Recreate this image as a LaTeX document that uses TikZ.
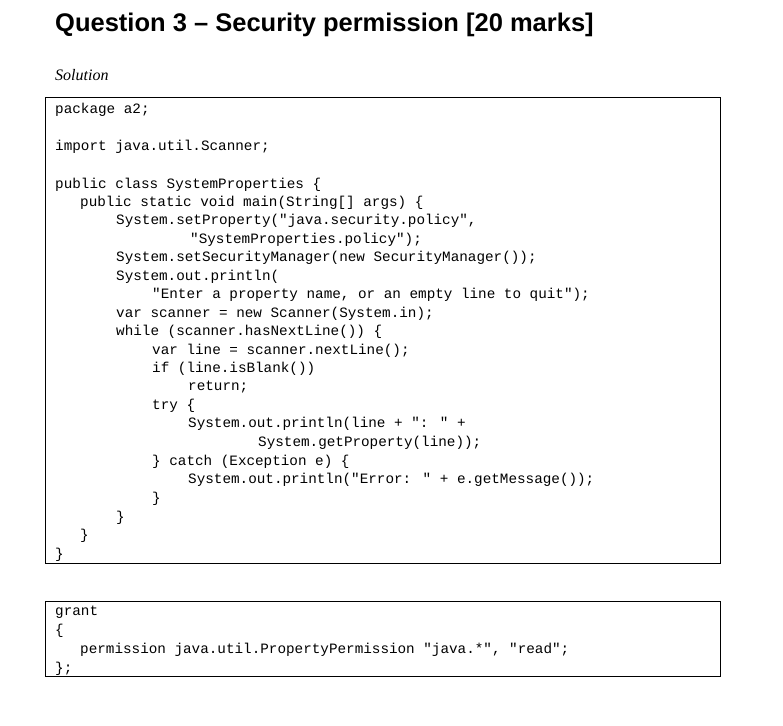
\documentclass[tikz,border=0pt]{standalone}
\usepackage{fontspec}
\setmainfont{Liberation Serif}
\newfontfamily\titlefont{Liberation Sans}
\newfontfamily\codefont{Liberation Mono}
\begin{document}
\begin{tikzpicture}[x=1pt,y=-1pt,
  code/.style={anchor=base west,inner sep=0,font=\codefont\fontsize{14.3}{15}\selectfont},
  frame/.style={draw=black,line width=0.8pt}]
\useasboundingbox (0,0) rectangle (783,725);
\node[anchor=base west,inner sep=0,font=\titlefont\bfseries\fontsize{25.5}{26}\selectfont] (title) at (55,31) {Question 3 – Security permission [20 marks]};
\node[anchor=base west,inner sep=0,font=\itshape\fontsize{16}{16}\selectfont] (sol) at (55,80) {Solution};
\draw[frame] (45,97) rectangle (720,563);
\draw[frame] (45,601) rectangle (720,676);
\def\L#1#2#3#4{\node[code] (#1) at (#2,#3) {#4};}
\L{a}{55}{113}{package a2;}
\L{b}{55}{150}{import java.util.Scanner;}
\L{c}{55}{188}{public class SystemProperties \{}
\L{d}{80}{206}{public static void main(String[] args) \{}
\L{e}{116}{224}{System.setProperty("java.security.policy",}
\L{f}{190}{243}{"SystemProperties.policy");}
\L{g}{116}{261}{System.setSecurityManager(new SecurityManager());}
\L{h}{116}{280}{System.out.println(}
\L{i}{152}{298}{"Enter a property name, or an empty line to quit");}
\L{j}{116}{317}{var scanner = new Scanner(System.in);}
\L{k}{116}{335}{while (scanner.hasNextLine()) \{}
\L{l}{152}{354}{var line = scanner.nextLine();}
\L{m}{152}{372}{if (line.isBlank())}
\L{n}{188}{390}{return;}
\L{o}{152}{409}{try \{}
\L{p}{188}{427}{System.out.println(line + ": " +}
\L{q}{258}{446}{System.getProperty(line));}
\L{r}{152}{465}{\} catch (Exception e) \{}
\L{s}{188}{483}{System.out.println("Error: " + e.getMessage());}
\L{t}{152}{502}{\}}
\L{u}{116}{521}{\}}
\L{v}{80}{539}{\}}
\L{w}{55}{558}{\}}
\L{x}{55}{615}{grant}
\L{y}{55}{634}{\{}
\L{z}{80}{653}{permission java.util.PropertyPermission "java.*", "read";}
\L{zz}{55}{672}{\};}
\end{tikzpicture}
\end{document}
